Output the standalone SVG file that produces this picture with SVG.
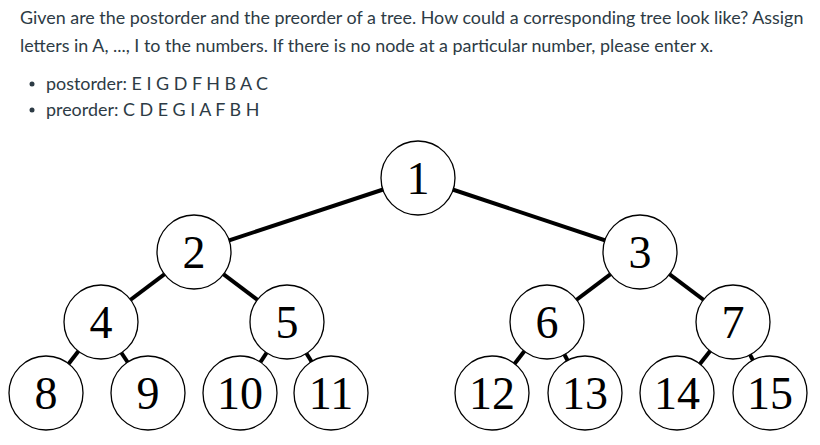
<svg xmlns="http://www.w3.org/2000/svg" width="820" height="445" viewBox="0 0 820 445">
<style>
.t{font-family:Lato,"Open Sans","Liberation Sans",sans-serif;font-size:17.9px;fill:#2d3b45}
.n circle{fill:#fff;stroke:#000;stroke-width:1.3}
.n text{font-family:"Liberation Serif","DejaVu Serif",serif;font-size:46px;text-anchor:middle;fill:#000}
#edges line{stroke:#000;stroke-width:4}
</style>
<rect width="820" height="445" fill="#fff"/>
<text class="t" x="20" y="24">Given are the postorder and the preorder of a tree. How could a corresponding tree look like? Assign</text>
<text class="t" x="20" y="52">letters in A, ..., I to the numbers. If there is no node at a particular number, please enter x.</text>
<circle cx="32" cy="84" r="2.5" fill="#2d3b45"/><text class="t" x="46" y="90">postorder: E I G D F H B A C</text>
<circle cx="32" cy="110" r="2.5" fill="#2d3b45"/><text class="t" x="46" y="116">preorder: C D E G I A F B H</text>
<g id="edges">
<line x1="418" y1="178" x2="194" y2="252"/><line x1="418" y1="178" x2="640" y2="252"/>
<line x1="194" y1="252" x2="101" y2="322"/><line x1="194" y1="252" x2="287" y2="322"/>
<line x1="640" y1="252" x2="547" y2="322"/><line x1="640" y1="252" x2="733" y2="322"/>
<line x1="101" y1="322" x2="46" y2="393"/><line x1="101" y1="322" x2="148" y2="393"/>
<line x1="287" y1="322" x2="240" y2="393"/><line x1="287" y1="322" x2="331" y2="393"/>
<line x1="547" y1="322" x2="492" y2="393"/><line x1="547" y1="322" x2="585" y2="393"/>
<line x1="733" y1="322" x2="677" y2="393"/><line x1="733" y1="322" x2="770" y2="393"/>
</g>
<g id="n1" class="n"><circle cx="418" cy="178" r="37"/><text x="418" y="194">1</text></g>
<g id="n2" class="n"><circle cx="194" cy="252" r="37"/><text x="194" y="268">2</text></g>
<g id="n3" class="n"><circle cx="640" cy="252" r="37"/><text x="640" y="268">3</text></g>
<g id="n4" class="n"><circle cx="101" cy="322" r="37"/><text x="101" y="338">4</text></g>
<g id="n5" class="n"><circle cx="287" cy="322" r="37"/><text x="287" y="338">5</text></g>
<g id="n6" class="n"><circle cx="547" cy="322" r="37"/><text x="547" y="338">6</text></g>
<g id="n7" class="n"><circle cx="733" cy="322" r="37"/><text x="733" y="338">7</text></g>
<g id="n8" class="n"><circle cx="46" cy="393" r="37"/><text x="46" y="409">8</text></g>
<g id="n9" class="n"><circle cx="148" cy="393" r="37"/><text x="148" y="409">9</text></g>
<g id="n10" class="n"><circle cx="240" cy="393" r="37"/><text x="240" y="409">10</text></g>
<g id="n11" class="n"><circle cx="331" cy="393" r="37"/><text x="331" y="409">11</text></g>
<g id="n12" class="n"><circle cx="492" cy="393" r="37"/><text x="492" y="409">12</text></g>
<g id="n13" class="n"><circle cx="585" cy="393" r="37"/><text x="585" y="409">13</text></g>
<g id="n14" class="n"><circle cx="677" cy="393" r="37"/><text x="677" y="409">14</text></g>
<g id="n15" class="n"><circle cx="770" cy="393" r="37"/><text x="770" y="409">15</text></g>
</svg>
